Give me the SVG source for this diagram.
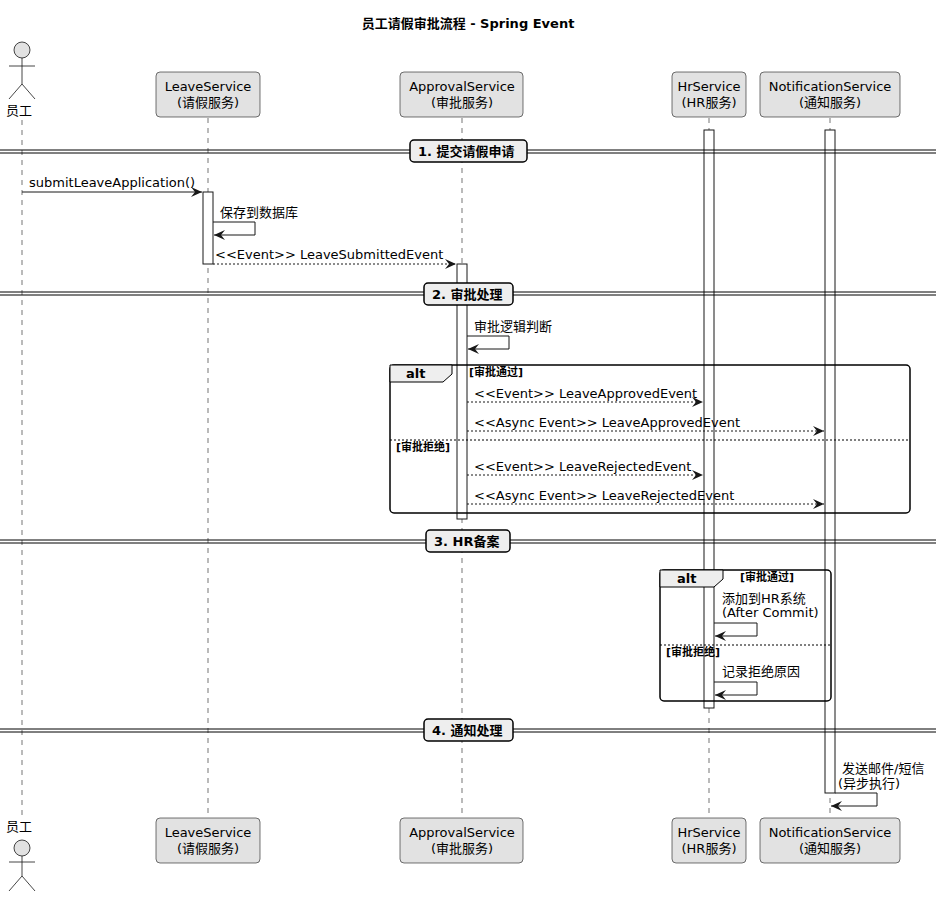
<svg xmlns="http://www.w3.org/2000/svg" width="942" height="898" viewBox="0 0 942 898">
<defs>
<style>
text{font-family:"DejaVu Sans","Noto Sans CJK SC",sans-serif;font-size:13px;fill:#000}
.t{font-weight:bold;font-size:13px}
.b{font-weight:bold;font-size:11px}
.p{fill:#e2e2e2;stroke:#181818;stroke-width:0.6}
.life{stroke:#181818;stroke-width:0.6;stroke-dasharray:5,5}
.act{fill:#fff;stroke:#181818;stroke-width:1}
.m{stroke:#181818;stroke-width:1;fill:none}
.d{stroke:#181818;stroke-width:1;fill:none;stroke-dasharray:2,2}
.frame{fill:none;stroke:#000;stroke-width:1.5}
.div{fill:#eee;stroke:#000;stroke-width:1.5}
</style>
<marker id="a" viewBox="0 0 12 10" refX="11" refY="5" markerWidth="12" markerHeight="10" markerUnits="userSpaceOnUse" orient="auto"><path d="M0,0 L11,5 L0,10 L4,5 Z" fill="#181818"/></marker>
</defs>
<rect width="942" height="898" fill="#fff"/>
<text x="468" y="28" class="t" text-anchor="middle">员工请假审批流程 - Spring Event</text>

<g id="lifelines">
<line class="life" x1="22" y1="120" x2="22" y2="818"/>
<line class="life" x1="208" y1="118" x2="208" y2="818"/>
<line class="life" x1="462" y1="118" x2="462" y2="818"/>
<line class="life" x1="709" y1="118" x2="709" y2="818"/>
<line class="life" x1="830" y1="118" x2="830" y2="818"/>
</g>

<g id="actor-top" fill="#e2e2e2" stroke="#181818" stroke-width="0.8">
<circle cx="22" cy="50" r="8"/>
<path d="M22,58 V84 M9,66 H35 M22,84 L9,99 M22,84 L35,99" fill="none"/>
</g>
<text x="19" y="115" text-anchor="middle">员工</text>
<g id="actor-bottom" fill="#e2e2e2" stroke="#181818" stroke-width="0.8">
<circle cx="22" cy="848" r="8"/>
<path d="M22,856 V876 M9,862 H35 M22,876 L9,891 M22,876 L35,891" fill="none"/>
</g>
<text x="19" y="831" text-anchor="middle">员工</text>

<g id="p-leave"><rect class="p" x="156" y="72" width="104" height="45" rx="4"/><text x="208" y="91" text-anchor="middle">LeaveService</text><text x="208" y="107" text-anchor="middle">(请假服务)</text></g>
<g id="p-approval"><rect class="p" x="400" y="72" width="123" height="45" rx="4"/><text x="462" y="91" text-anchor="middle">ApprovalService</text><text x="462" y="107" text-anchor="middle">(审批服务)</text></g>
<g id="p-hr"><rect class="p" x="672" y="72" width="74" height="45" rx="4"/><text x="709" y="91" text-anchor="middle">HrService</text><text x="709" y="107" text-anchor="middle">(HR服务)</text></g>
<g id="p-notif"><rect class="p" x="760" y="72" width="140" height="45" rx="4"/><text x="830" y="91" text-anchor="middle">NotificationService</text><text x="830" y="107" text-anchor="middle">(通知服务)</text></g>

<g id="p-leave-b"><rect class="p" x="156" y="818" width="104" height="45" rx="4"/><text x="208" y="837" text-anchor="middle">LeaveService</text><text x="208" y="853" text-anchor="middle">(请假服务)</text></g>
<g id="p-approval-b"><rect class="p" x="400" y="818" width="123" height="45" rx="4"/><text x="462" y="837" text-anchor="middle">ApprovalService</text><text x="462" y="853" text-anchor="middle">(审批服务)</text></g>
<g id="p-hr-b"><rect class="p" x="672" y="818" width="74" height="45" rx="4"/><text x="709" y="837" text-anchor="middle">HrService</text><text x="709" y="853" text-anchor="middle">(HR服务)</text></g>
<g id="p-notif-b"><rect class="p" x="760" y="818" width="140" height="45" rx="4"/><text x="830" y="837" text-anchor="middle">NotificationService</text><text x="830" y="853" text-anchor="middle">(通知服务)</text></g>

<g id="activations">
<rect class="act" x="203" y="192" width="10" height="72"/>
<rect class="act" x="457" y="264" width="10" height="255"/>
<rect class="act" x="704" y="130" width="10" height="578"/>
<rect class="act" x="825" y="130" width="10" height="663"/>
</g>

<g id="dividers">
<g><path d="M0,150 H936 M0,153 H936" stroke="#000" stroke-width="1"/><rect class="div" x="410" y="140" width="117" height="22" rx="4"/><text x="418" y="156" class="t">1. 提交请假申请</text></g>
<g><path d="M0,292 H936 M0,295 H936" stroke="#000" stroke-width="1"/><rect class="div" x="424" y="283" width="89" height="22" rx="4"/><text x="432" y="299" class="t">2. 审批处理</text></g>
<g><path d="M0,540 H936 M0,543 H936" stroke="#000" stroke-width="1"/><rect class="div" x="426" y="530" width="84" height="22" rx="4"/><text x="434" y="546" class="t">3. HR备案</text></g>
<g><path d="M0,729 H936 M0,732 H936" stroke="#000" stroke-width="1"/><rect class="div" x="424" y="719" width="89" height="22" rx="4"/><text x="432" y="735" class="t">4. 通知处理</text></g>
</g>

<g id="frames">
<rect class="frame" x="390" y="365" width="520" height="148" rx="4"/>
<path d="M390,365 H452 V374 L443,382 H390 Z" fill="#eee" stroke="#000" stroke-width="1"/>
<text x="406" y="378" class="t">alt</text>
<text x="469" y="376" class="b">[审批通过]</text>
<line x1="390" y1="440" x2="910" y2="440" stroke="#000" stroke-dasharray="2,2"/>
<text x="396" y="451" class="b">[审批拒绝]</text>

<rect class="frame" x="660" y="570" width="171" height="131" rx="4"/>
<path d="M660,570 H723 V579 L714,587 H660 Z" fill="#eee" stroke="#000" stroke-width="1"/>
<text x="677" y="583" class="t">alt</text>
<text x="740" y="581" class="b">[审批通过]</text>
<line x1="660" y1="645" x2="831" y2="645" stroke="#000" stroke-dasharray="2,2"/>
<text x="666" y="656" class="b">[审批拒绝]</text>
</g>

<g id="connectors">
<line class="m" x1="22" y1="192" x2="202" y2="192" marker-end="url(#a)"/>
<text x="29" y="187">submitLeaveApplication()</text>
<path class="m" d="M213,222 H255 V235 H214" marker-end="url(#a)"/>
<text x="220" y="217">保存到数据库</text>
<line class="d" x1="213" y1="264" x2="456" y2="264" marker-end="url(#a)"/>
<text x="215" y="259">&lt;&lt;Event&gt;&gt; LeaveSubmittedEvent</text>
<path class="m" d="M467,336 H509 V349 H468" marker-end="url(#a)"/>
<text x="474" y="331">审批逻辑判断</text>
<line class="d" x1="467" y1="402" x2="703" y2="402" marker-end="url(#a)"/>
<text x="474" y="398">&lt;&lt;Event&gt;&gt; LeaveApprovedEvent</text>
<line class="d" x1="467" y1="431" x2="824" y2="431" marker-end="url(#a)"/>
<text x="474" y="427">&lt;&lt;Async Event&gt;&gt; LeaveApprovedEvent</text>
<line class="d" x1="467" y1="475" x2="703" y2="475" marker-end="url(#a)"/>
<text x="474" y="471">&lt;&lt;Event&gt;&gt; LeaveRejectedEvent</text>
<line class="d" x1="467" y1="504" x2="824" y2="504" marker-end="url(#a)"/>
<text x="474" y="500">&lt;&lt;Async Event&gt;&gt; LeaveRejectedEvent</text>
<path class="m" d="M714,623 H757 V636 H715" marker-end="url(#a)"/>
<text x="722" y="603">添加到HR系统</text>
<text x="722" y="617">(After Commit)</text>
<path class="m" d="M714,682 H757 V695 H715" marker-end="url(#a)"/>
<text x="722" y="676">记录拒绝原因</text>
<path class="m" d="M835,793 H877 V806 H831" marker-end="url(#a)"/>
<text x="842" y="773">发送邮件/短信</text>
<text x="838" y="788">(异步执行)</text>
</g>
</svg>
